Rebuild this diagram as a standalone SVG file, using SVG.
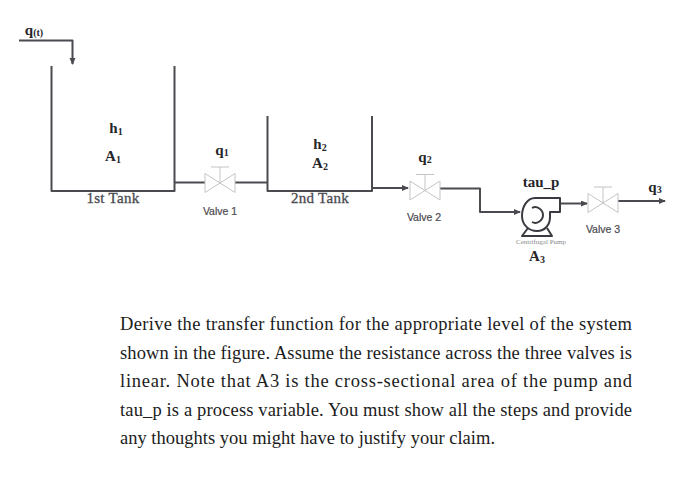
<svg xmlns="http://www.w3.org/2000/svg" width="700" height="494" viewBox="0 0 700 494">
<style>
.p{fill:none;stroke:#4a4a50;stroke-width:2;stroke-linejoin:round}
.v{fill:none;stroke:#c4c4c4;stroke-width:1}
.b{font-family:"Liberation Serif",serif;font-weight:bold;fill:#26262a;font-size:15px;text-anchor:middle}
.s{font-size:10px}
.t{font-family:"Liberation Serif",serif;fill:#4a4a50;stroke:#4a4a50;stroke-width:.3px;font-size:15px;text-anchor:middle;letter-spacing:.3px}
.l{font-family:"Liberation Sans",sans-serif;fill:#4a4a50;stroke:#4a4a50;stroke-width:.2px;font-size:10.500px;text-anchor:middle}
.d{font-family:"Liberation Serif",serif;fill:#1c1c1c;font-size:18.500px}
.u{fill:none;stroke:#3a3a40;stroke-width:2;stroke-linejoin:round}
</style>
<defs>
<marker id="a" markerWidth="8" markerHeight="7" refX="6" refY="3" orient="auto" markerUnits="userSpaceOnUse"><path d="M0 0L7 3L0 6Z" fill="#4a4a50"/></marker>
<path id="vb" d="M-15-9.500L15 9.500V-9.500L-15 9.500ZM0 0V-16M-9-16H9" class="v"/>
</defs>
<rect width="700" height="494" fill="#fff"/>
<g id="connectors">
<path class="p" d="M19 40.500H72.500V64" marker-end="url(#a)"/>
<path class="p" d="M175 182.500H205M235 182.500H267"/>
<path class="p" d="M372 188H408" marker-end="url(#a)"/>
<path class="p" d="M440 188.500H480V212H520" marker-end="url(#a)"/>
<path class="p" d="M560 203.500H587" marker-end="url(#a)"/>
<path class="p" d="M618 201H665" marker-end="url(#a)"/>
</g>
<g id="tank1"><path class="p" d="M51.500 66V191H174.500V66"/><text class="b" x="116" y="133">h<tspan class="s" dy="2">1</tspan></text><text class="b" x="113" y="161">A<tspan class="s" dy="2">1</tspan></text><text class="t" x="113" y="203">1st Tank</text></g>
<g id="tank2"><path class="p" d="M267.500 116V191H372V116"/><text class="b" x="320" y="149">h<tspan class="s" dy="2">2</tspan></text><text class="b" x="320" y="168">A<tspan class="s" dy="2">2</tspan></text><text class="t" x="320" y="203">2nd Tank</text></g>
<g id="valve1"><use href="#vb" x="220" y="183"/><text class="l" x="220" y="215">Valve 1</text></g>
<g id="valve2"><use href="#vb" x="425" y="190.500"/><text class="l" x="424" y="221">Valve 2</text></g>
<g id="valve3"><use href="#vb" x="603" y="203"/><text class="l" x="603" y="233">Valve 3</text></g>
<g id="pump">
<path class="u" d="M560 198H535C527 198 522 207 522 216C522 225 529 231 537 231C545 231 550 225 550 217V212H560Z"/>
<path class="u" d="M532 208C537 205 543 210 543 215C543 220 537 225 532 222"/>
<path class="u" d="M528 228L522 236H552L547 228"/>
<text x="541" y="244" font-family="Liberation Serif,serif" font-size="7" fill="#8a8a8a" text-anchor="middle">Centrifugal Pump</text>
<text class="b" x="537" y="261">A<tspan class="s" dy="2">3</tspan></text>
</g>
<g id="labels">
<text class="b" x="34" y="35">q<tspan class="s" dy="1">(t)</tspan></text>
<text class="b" x="222" y="155">q<tspan class="s" dy="1">1</tspan></text>
<text class="b" x="425" y="162">q<tspan class="s" dy="1">2</tspan></text>
<text class="b" x="541" y="187">tau_p</text>
<text class="b" x="655" y="192">q<tspan class="s" dy="1">3</tspan></text>
</g>
<g id="body">
<text class="d" x="120" y="330" textLength="512">Derive the transfer function for the appropriate level of the system</text>
<text class="d" x="120" y="359" textLength="512">shown in the figure. Assume the resistance across the three valves is</text>
<text class="d" x="120" y="387" textLength="512">linear. Note that A3 is the cross-sectional area of the pump and</text>
<text class="d" x="120" y="416" textLength="512">tau_p is a process variable. You must show all the steps and provide</text>
<text class="d" x="120" y="444" textLength="375">any thoughts you might have to justify your claim.</text>
</g>
</svg>
